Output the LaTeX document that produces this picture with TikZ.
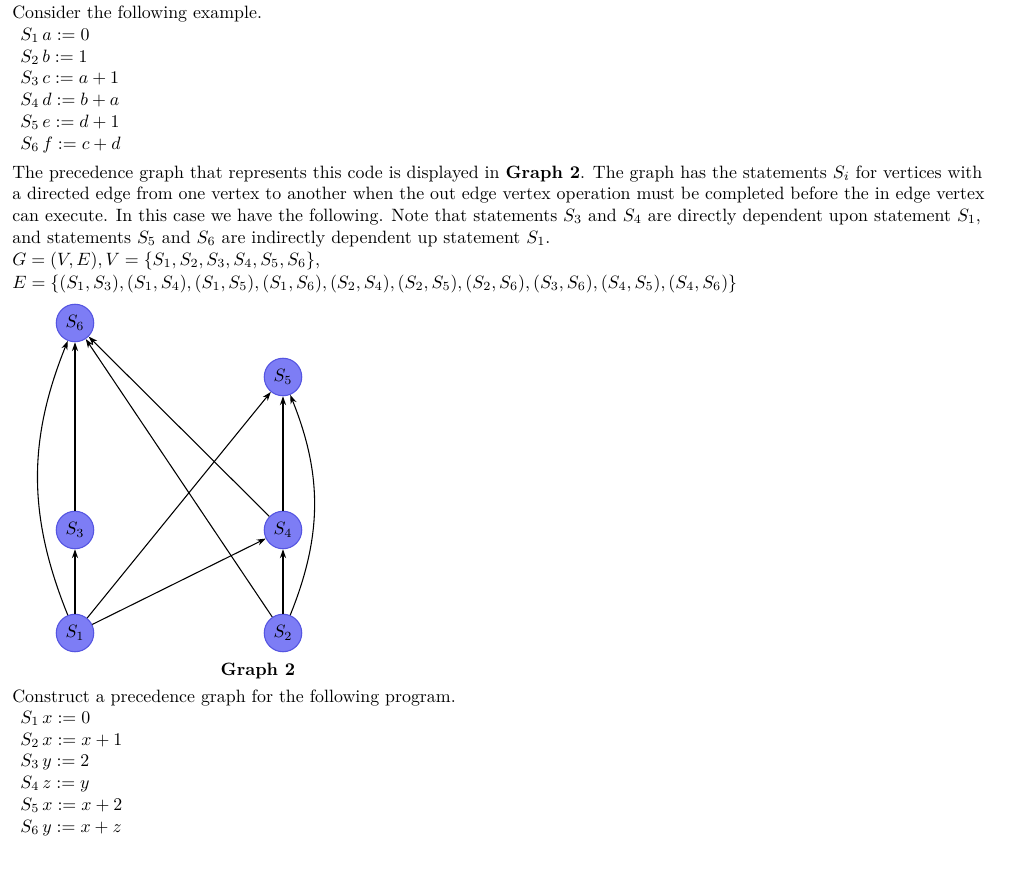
\documentclass[tikz,border=0pt]{standalone}
\usetikzlibrary{arrows.meta}
\begin{document}
\begin{tikzpicture}[x=0.56pt,y=-0.56pt,
  txt/.style={anchor=base west,inner sep=0pt,font=\fontsize{10}{12}\selectfont},
  vtx/.style={circle,fill={rgb,255:red,125;green,125;blue,245},draw={rgb,255:red,85;green,85;blue,225},line width=0.6pt,minimum size=21pt,inner sep=0pt,font=\fontsize{10}{12}\selectfont},
  edge/.style={-{Stealth[length=5pt,width=3.5pt]},line width=0.6pt}]
\useasboundingbox (0,0) rectangle (1024,870);
\node[txt] (t0) at (12,18) {Consider the following example.};
\foreach \i/\y/\c in {1/40/{a:=0},2/62/{b:=1},3/83/{c:=a+1},4/105/{d:=b+a},5/127/{e:=d+1},6/149/{f:=c+d}}{
  \node[txt] (sa\i) at (20,\y) {$S_\i$};
  \node[txt] (ca\i) at (42,\y) {$\c$};
}
\node[txt] (p1) at (12,178) {The precedence graph that represents this code is displayed in \textbf{Graph 2}. The graph has the statements $S_i$ for vertices with};
\node[txt] (p2) at (12,199) {a directed edge from one vertex to another when the out edge vertex operation must be completed before the in edge vertex};
\node[txt] (p3) at (12,221) {can execute. In this case we have the following. Note that statements $S_3$ and $S_4$ are directly dependent upon statement $S_1$,};
\node[txt] (p4) at (12,243) {and statements $S_5$ and $S_6$ are indirectly dependent up statement $S_1$.};
\node[txt] (p5) at (12,265) {$G=(V,E), V=\{S_1,S_2,S_3,S_4,S_5,S_6\}$,};
\node[txt] (p6) at (12,288) {$E=\{(S_1,S_3),(S_1,S_4),(S_1,S_5),(S_1,S_6),(S_2,S_4),(S_2,S_5),(S_2,S_6),(S_3,S_6),(S_4,S_5),(S_4,S_6)\}$};
\node[vtx] (S6) at (75,323) {$S_6$};
\node[vtx] (S5) at (283,377) {$S_5$};
\node[vtx] (S3) at (75,530) {$S_3$};
\node[vtx] (S4) at (283,530) {$S_4$};
\node[vtx] (S1) at (75,633) {$S_1$};
\node[vtx] (S2) at (283,633) {$S_2$};
\draw[edge] (S1) -- (S3);
\draw[edge] (S1) -- (S4);
\draw[edge] (S1) -- (S5);
\draw[edge] (S1) to[bend left=22] (S6);
\draw[edge] (S2) -- (S4);
\draw[edge] (S2) to[bend right=22] (S5);
\draw[edge] (S2) -- (S6);
\draw[edge] (S3) -- (S6);
\draw[edge] (S4) -- (S5);
\draw[edge] (S4) -- (S6);
\node[txt,anchor=base] (cap) at (258,675) {\textbf{Graph 2}};
\node[txt] (t1) at (12,702) {Construct a precedence graph for the following program.};
\foreach \i/\y/\c in {1/723/{x:=0},2/745/{x:=x+1},3/766/{y:=2},4/788/{z:=y},5/810/{x:=x+2},6/832/{y:=x+z}}{
  \node[txt] (sb\i) at (20,\y) {$S_\i$};
  \node[txt] (cb\i) at (42,\y) {$\c$};
}
\end{tikzpicture}
\end{document}
